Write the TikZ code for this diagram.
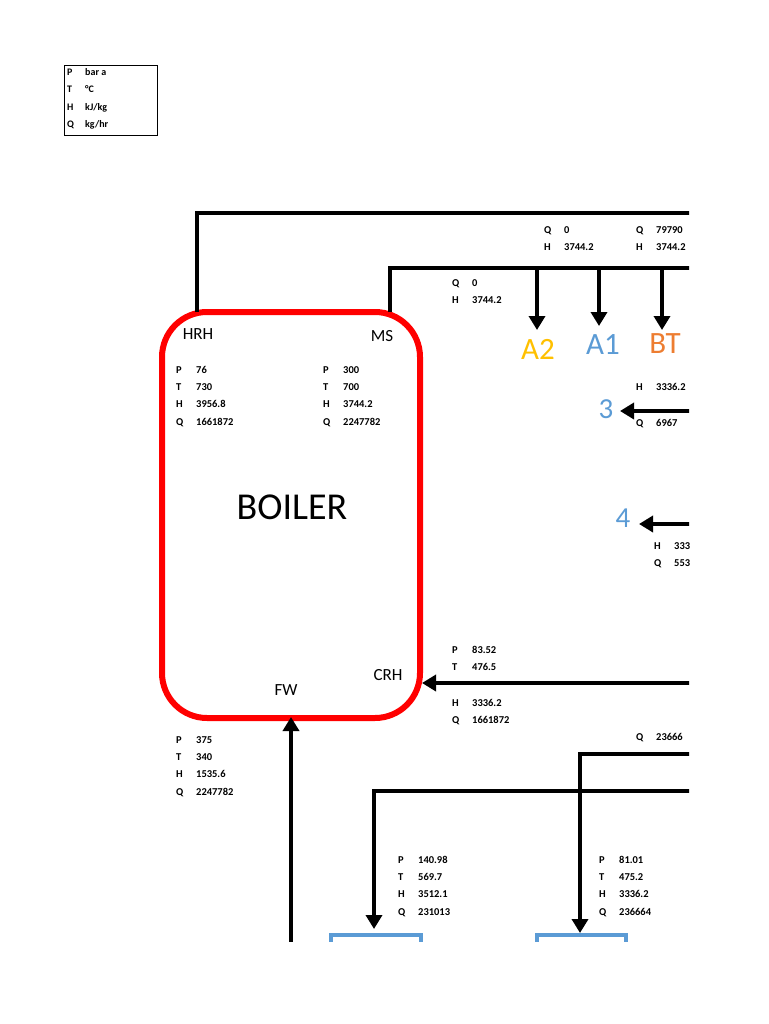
\documentclass[tikz,border=0pt]{standalone}
\usepackage{fontspec}
\setmainfont{Carlito}
\usetikzlibrary{arrows.meta}
\definecolor{cyel}{HTML}{FFC000}
\definecolor{cblu}{HTML}{5B9BD5}
\definecolor{cora}{HTML}{ED7D31}
\begin{document}
\begin{tikzpicture}[x=1pt,y=-1pt,
  pipe/.style={line width=4pt,line cap=butt},
  arr/.style={pipe,-{Triangle[length=14pt,width=16pt]}},
  dat/.style={inner sep=0pt,anchor=north west,font=\fontsize{10.5}{17.3}\selectfont\bfseries,align=left},
  big/.style={inner sep=0pt,font=\fontsize{31}{31}\selectfont},
  lab/.style={inner sep=0pt,font=\fontsize{17}{17}\selectfont}]
\useasboundingbox (0,0) rectangle (768,1024);
\newcommand\blk[4]{\node[dat] (#1) at (#2,#3) {\begin{tabular}{@{}p{20pt}@{}l@{}}#4\end{tabular}};}
\node[draw,line width=1.2pt,minimum width=93pt,minimum height=70pt,inner sep=0pt,anchor=north west] (leg) at (64,65) {};
\node[dat,font=\fontsize{10}{17.5}\selectfont\bfseries] (legt) at (67,63) {\begin{tabular}{@{}p{18pt}@{}l@{}}P&bar a\\T&°C\\H&kJ/kg\\Q&kg/hr\end{tabular}};
\begin{scope}
\clip (0,0) rectangle (689,941);
\draw[red,line width=6pt,rounded corners=45pt] (162,312) rectangle (420,718);
\coordinate (hrh) at (197,312); \coordinate (ms) at (390,312);
\coordinate (e1) at (700,213); \coordinate (e2) at (700,268);
\draw[pipe] (hrh) |- (e1);
\draw[pipe] (ms) |- (e2);
\coordinate (t1) at (537,268); \coordinate (t2) at (599,268); \coordinate (t3) at (662,268);
\coordinate (b1) at (537,330); \coordinate (b2) at (599,326); \coordinate (b3) at (662,330);
\draw[arr] (t1) -- (b1); \draw[arr] (t2) -- (b2); \draw[arr] (t3) -- (b3);
\node[big,text=cyel] (a2) at (538,349) {A2};
\node[big,text=cblu] (a1) at (603,345) {A1};
\node[big,text=cora] (bt) at (665,344) {BT};
\coordinate (s3) at (700,411); \coordinate (d3) at (620,411);
\draw[arr] (s3) -- (d3);
\node[big,text=cblu,font=\fontsize{29}{29}\selectfont] (n3) at (606,409) {3};
\coordinate (s4) at (700,524); \coordinate (d4) at (639,524);
\draw[arr] (s4) -- (d4);
\node[big,text=cblu,font=\fontsize{29}{29}\selectfont] (n4) at (623,518) {4};
\coordinate (sc) at (700,683); \coordinate (dc) at (422,683);
\draw[arr] (sc) -- (dc);
\coordinate (sf) at (291,960); \coordinate (df) at (291,717);
\draw[arr] (sf) -- (df);
\coordinate (s5) at (700,754); \coordinate (d5) at (580,933);
\draw[arr] (s5) -| (d5);
\coordinate (s6) at (700,791); \coordinate (d6) at (374,929);
\draw[arr] (s6) -| (d6);
\draw[line width=3.5pt,cblu] (331,960) |- (421,935) -- (421,960);
\draw[line width=3.5pt,cblu] (537,960) |- (626,935) -- (626,960);
\blk{q1}{544}{221}{Q&0\\H&3744.2}
\blk{q2}{636}{221}{Q&79790\\H&3744.2}
\blk{q3}{452}{274}{Q&0\\H&3744.2}
\blk{q4}{636}{378}{H&3336.2}
\blk{q5}{636}{414}{Q&6967}
\blk{q6}{654}{537}{H&3336.2\\Q&5530}
\end{scope}
\node[lab] (lhrh) at (198,334) {HRH};
\node[lab] (lms) at (382,336) {MS};
\node[lab] (lfw) at (286,690) {FW};
\node[lab] (lcrh) at (388,675) {CRH};
\node[inner sep=0pt,font=\fontsize{38}{38}\selectfont] (boiler) at (292,507) {BOILER};
\blk{d1}{176}{361}{P&76\\T&730\\H&3956.8\\Q&1661872}
\blk{d2}{323}{361}{P&300\\T&700\\H&3744.2\\Q&2247782}
\blk{d3}{452}{641}{P&83.52\\T&476.5}
\blk{d4}{452}{694}{H&3336.2\\Q&1661872}
\blk{d5}{636}{728}{Q&23666}
\blk{d6}{176}{731}{P&375\\T&340\\H&1535.6\\Q&2247782}
\blk{d7}{398}{851}{P&140.98\\T&569.7\\H&3512.1\\Q&231013}
\blk{d8}{599}{851}{P&81.01\\T&475.2\\H&3336.2\\Q&236664}
\end{tikzpicture}
\end{document}
